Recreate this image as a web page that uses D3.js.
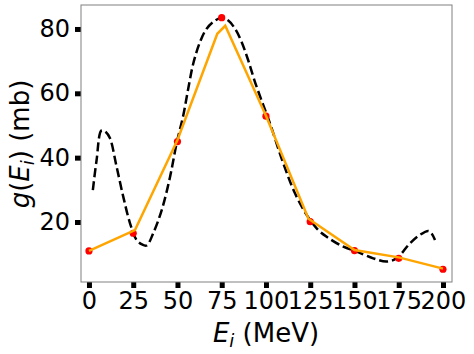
<!DOCTYPE html>
<html lang="en">
  <head>
    <meta charset="utf-8" />
    <title>g(E_i) vs E_i</title>
    <script src="https://d3js.org/d3.v7.min.js"></script>
    <style>
      body {
        margin: 0;
        background: #fff;
        font-family: "DejaVu Sans", sans-serif;
      }
      .tick text {
        font-size: 24px;
        font-family: "DejaVu Sans", sans-serif;
        fill: #000;
      }
      .tick line {
        stroke: #000;
        stroke-width: 5px;
      }
    </style>
  </head>
  <body>
    <svg id="chart" width="474" height="354"></svg>

    <script>
      // ---- data ----
      const energies = [0, 25, 50, 75, 100, 125, 150, 175, 200];
      const measured = [11, 16.5, 45, 83.5, 52.9, 20.1, 11.1, 8.7, 5.3];

      // orange polyline
      const fitX = [0, 26, 50, 72.5, 77, 100, 124, 150, 175, 200];
      const fitY = [11, 17.5, 45.5, 78.5, 81, 53, 21, 11.3, 9, 5.5];

      // black dashed curve
      const curveX = [2.2, 4.3, 7.1, 9.5, 11.9, 15.6, 19.4, 23.2, 26.9, 30, 32.6, 36.3,
        41.1, 45.8, 49.5, 53.3, 56.1, 58.9, 62.7, 66.5, 71.2, 74.9, 78.7, 82.5, 86.3,
        90, 93.8, 98.5, 102.3, 109.8, 116.4, 123, 129, 134.3, 143.7, 151.2, 160.6,
        168.2, 173.8, 181.4, 187, 191.7, 193.5, 195.5];
      const curveY = [29.9, 39.2, 48.5, 48, 46, 37.2, 27.8, 19.6, 14.4, 13, 12.7, 16.5,
        23.7, 34, 44.4, 53.2, 61.5, 69.2, 75.9, 80.1, 82.6, 83.5, 82.6, 80.1, 75.9,
        70.2, 63.5, 56.3, 50.6, 38.2, 28.9, 22.2, 17.8, 15.4, 12.3, 10.8, 8.7,
        7.7, 8.7, 13.4, 16, 17.2, 16.5, 14.4];

      const xTicks = [0, 25, 50, 75, 100, 125, 150, 175, 200];
      const yTicks = [20, 40, 60, 80];

      // ---- layout ----
      const svg = d3.select("#chart");
      const plot = { left: 81, right: 452, top: 5, bottom: 282 };

      const x = d3.scaleLinear().domain([-4.5, 205.1]).range([plot.left, plot.right]);
      const y = d3.scaleLinear().domain([1.34, 87.45]).range([plot.bottom, plot.top]);

      // axes (ticks as thick squares)
      const xAxis = svg.append("g")
        .attr("transform", `translate(0,${plot.bottom})`)
        .call(d3.axisBottom(x).tickValues(xTicks).tickSizeInner(6).tickSizeOuter(0).tickPadding(4));
      xAxis.select(".domain").remove();

      const yAxis = svg.append("g")
        .attr("transform", `translate(${plot.left},0)`)
        .call(d3.axisLeft(y).tickValues(yTicks).tickSizeInner(6).tickSizeOuter(0).tickPadding(5));
      yAxis.select(".domain").remove();

      // frame
      svg.append("rect")
        .attr("x", plot.left)
        .attr("y", plot.top)
        .attr("width", plot.right - plot.left)
        .attr("height", plot.bottom - plot.top)
        .attr("fill", "none")
        .attr("stroke", "#808080")
        .attr("stroke-width", 1);

      // dashed curve
      const curvePts = curveX.map((v, i) => [v, curveY[i]]);
      svg.append("path")
        .datum(curvePts)
        .attr("fill", "none")
        .attr("stroke", "#000")
        .attr("stroke-width", 2.5)
        .attr("stroke-dasharray", "9,4")
        .attr("d", d3.line().x(d => x(d[0])).y(d => y(d[1])).curve(d3.curveCatmullRom.alpha(0.5)));

      // red points
      svg.selectAll("circle.pt")
        .data(energies.map((e, i) => [e, measured[i]]))
        .enter()
        .append("circle")
        .attr("class", "pt")
        .attr("cx", d => x(d[0]))
        .attr("cy", d => y(d[1]))
        .attr("r", 3.6)
        .attr("fill", "#ff0000");

      // orange line
      const fitPts = fitX.map((v, i) => [v, fitY[i]]);
      svg.append("path")
        .datum(fitPts)
        .attr("fill", "none")
        .attr("stroke", "#ffa500")
        .attr("stroke-width", 2.5)
        .attr("d", d3.line().x(d => x(d[0])).y(d => y(d[1])));

      // axis labels
      const xl = svg.append("text")
        .attr("x", 266)
        .attr("y", 342)
        .attr("text-anchor", "middle")
        .style("font-size", "26px");
      xl.append("tspan").style("font-style", "italic").text("E");
      xl.append("tspan").style("font-style", "italic").style("font-size", "18px").attr("dy", 5).text("i");
      xl.append("tspan").attr("dy", -5).text(" (MeV)");

      const yl = svg.append("text")
        .attr("transform", `translate(29,144) rotate(-90)`)
        .attr("text-anchor", "middle")
        .style("font-size", "26px");
      yl.append("tspan").style("font-style", "italic").text("g");
      yl.append("tspan").text("(");
      yl.append("tspan").style("font-style", "italic").text("E");
      yl.append("tspan").style("font-style", "italic").style("font-size", "18px").attr("dy", 5).text("i");
      yl.append("tspan").attr("dy", -5).text(") (mb)");
    </script>
  </body>
</html>
